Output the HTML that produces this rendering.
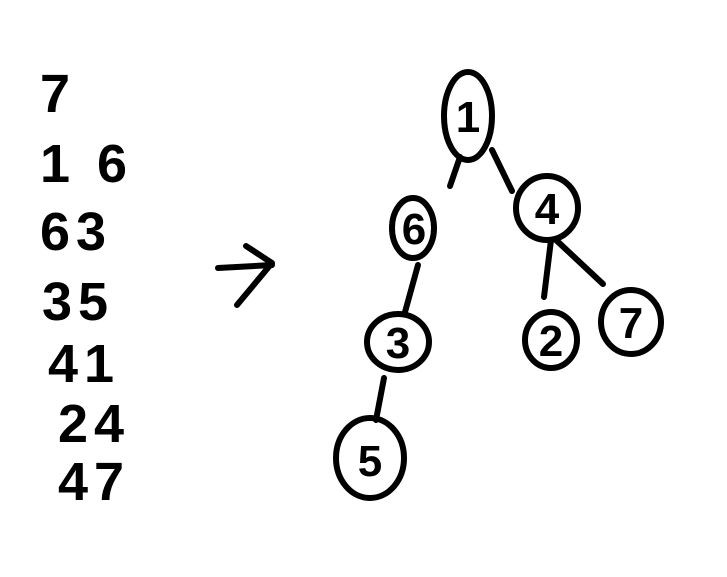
<!DOCTYPE html>
<html><head><meta charset="utf-8"><style>
html,body{margin:0;padding:0;background:#fff;}
svg{display:block;}
text{font-family:"Liberation Sans",sans-serif;font-weight:bold;fill:#000;}
</style></head><body>
<svg width="727" height="577" viewBox="0 0 727 577" xmlns="http://www.w3.org/2000/svg">
<g font-size="54" letter-spacing="6">
<text x="40" y="112">7</text>
<text x="40" y="182">1 6</text>
<text x="40" y="250">63</text>
<text x="42" y="320">35</text>
<text x="48" y="382">41</text>
<text x="58" y="442">24</text>
<text x="58" y="500">47</text>
</g>
<g fill="none" stroke="#000" stroke-width="6" stroke-linecap="round" stroke-linejoin="round">
<path d="M218 268 L272 265"/>
<path d="M246 246 L272 263 L237 305"/>
<ellipse cx="468" cy="116" rx="24" ry="44"/>
<ellipse cx="413" cy="228" rx="21" ry="30"/>
<ellipse cx="547" cy="208" rx="31" ry="32"/>
<ellipse cx="398" cy="342" rx="31" ry="28"/>
<ellipse cx="551" cy="340" rx="26" ry="28"/>
<ellipse cx="631" cy="322" rx="30" ry="32"/>
<ellipse cx="370" cy="458" rx="34" ry="40"/>
<path d="M460 157 L450 186"/>
<path d="M492 150 L512 191"/>
<path d="M418 265 L405 312"/>
<path d="M551 240 L544 297"/>
<path d="M556 240 L603 284"/>
<path d="M384 378 L376 420"/>
</g>
<g font-size="44" text-anchor="middle">
<text x="468" y="132">1</text>
<text x="414" y="244">6</text>
<text x="547" y="224">4</text>
<text x="398" y="358">3</text>
<text x="551" y="356">2</text>
<text x="631" y="338">7</text>
<text x="370" y="476">5</text>
</g>
</svg>
</body></html>
